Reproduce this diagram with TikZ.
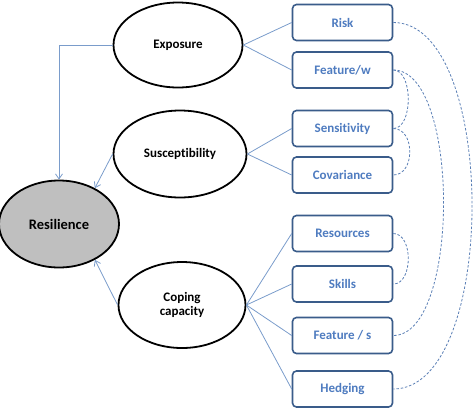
\documentclass[tikz,border=0pt]{standalone}
\usepackage{fontspec}
\setmainfont{Carlito}[Ligatures=NoCommon]
\usetikzlibrary{shapes.geometric,arrows.meta,calc}
\definecolor{boxline}{HTML}{3A5C8A}
\definecolor{boxtext}{HTML}{4F7CC0}
\definecolor{conn}{HTML}{7A9CCB}
\definecolor{dash}{HTML}{5A7FB5}
\definecolor{resfill}{HTML}{BFBFBF}
\tikzset{
  oval/.style={ellipse, draw=black, line width=1.8pt, fill=white, inner sep=0pt,
    font=\bfseries\fontsize{13}{14.5}\selectfont, align=center},
  itembox/.style={draw=boxline, line width=1.6pt, rounded corners=4pt, fill=white,
    minimum width=100pt, minimum height=36pt, inner sep=0pt, text=boxtext,
    font=\bfseries\fontsize{13}{14.5}\selectfont},
  link/.style={draw=conn, line width=0.8pt},
  arrowlink/.style={link, -{Straight Barb[length=5pt,width=7pt]}},
  dashlink/.style={draw=dash, line width=0.8pt, dash pattern=on 2.5pt off 1.8pt}
}
\begin{document}
\begin{tikzpicture}[x=1pt,y=-1pt]
\useasboundingbox (0,0) rectangle (474,408);
% ovals
\node[oval, minimum width=129pt, minimum height=85pt] (exp) at (178,45) {Exposure};
\node[oval, minimum width=133pt, minimum height=87pt] (sus) at (180,154) {Susceptibility};
\node[oval, minimum width=127pt, minimum height=86pt] (cop) at (182,305) {Coping\\capacity};
\node[oval, fill=resfill, minimum width=120pt, minimum height=87pt,
  font=\bfseries\fontsize{14.5}{16}\selectfont] (res) at (59,224) {Resilience};
% boxes
\node[itembox] (risk) at (342.5,22.5) {Risk};
\node[itembox] (featw) at (342.5,70) {Feature/w};
\node[itembox] (sens) at (342.5,128.5) {Sensitivity};
\node[itembox] (cov) at (342.5,175) {Covariance};
\node[itembox] (resrc) at (342.5,233.5) {Resources};
\node[itembox] (skills) at (342.5,284) {Skills};
\node[itembox] (feats) at (342.5,335.5) {Feature / s};
\node[itembox] (hedg) at (342.5,389) {Hedging};
% connectors oval -> boxes
\draw[link] (exp.east) -- (risk.west);
\draw[link] (exp.east) -- (featw.west);
\draw[link] (sus.east) -- (sens.west);
\draw[link] (sus.east) -- (cov.west);
\draw[link] (cop.east) -- (resrc.west);
\draw[link] (cop.east) -- (skills.west);
\draw[link] (cop.east) -- (feats.west);
\draw[link] (cop.east) -- (hedg.west);
% arrows to resilience
\coordinate (exptip) at (res.north);
\draw[arrowlink] (exp.west) -| (exptip);
\draw[arrowlink] (sus.west) -- (res.45);
\draw[arrowlink] (cop.west) -- (res.-45);
% dashed curves
\draw[dashlink] (risk.east) .. controls ($(risk.east)+(105,0)$) and ($(hedg.east)+(105,0)$) .. (hedg.east);
\draw[dashlink] (featw.east) .. controls ($(featw.east)+(67,0)$) and ($(feats.east)+(67,0)$) .. (feats.east);
\draw[dashlink] (featw.east) .. controls ($(featw.east)+(20,0)$) and ($(sens.east)+(20,0)$) .. (sens.east);
\draw[dashlink] (sens.east) .. controls ($(sens.east)+(22,0)$) and ($(cov.east)+(22,0)$) .. (cov.east);
\draw[dashlink] (resrc.east) .. controls ($(resrc.east)+(20,0)$) and ($(skills.east)+(20,0)$) .. (skills.east);
\end{tikzpicture}
\end{document}
